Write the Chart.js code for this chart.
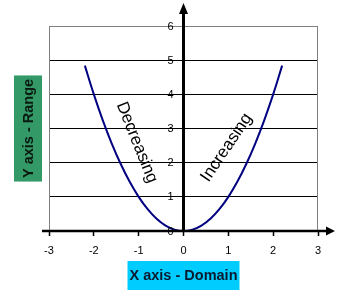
<!DOCTYPE html>
<html>
<head>
<meta charset="utf-8">
<script src="https://cdn.jsdelivr.net/npm/chart.js@4"></script>
<style>
html,body{margin:0;padding:0;background:#fff;}
#wrap{width:339px;height:296px;}
</style>
</head>
<body>
<div id="wrap"><canvas id="c" width="339" height="296"></canvas></div>
<script>
// Data (y = x^2 parabola)
const xValues = [-2.2, -2.0, -1.8, -1.6, -1.4, -1.2, -1.0, -0.8, -0.6, -0.4, -0.2, 0, 0.2, 0.4, 0.6, 0.8, 1.0, 1.2, 1.4, 1.6, 1.8, 2.0, 2.2];
const yValues = [4.84, 4.0, 3.24, 2.56, 1.96, 1.44, 1.0, 0.64, 0.36, 0.16, 0.04, 0, 0.04, 0.16, 0.36, 0.64, 1.0, 1.44, 1.96, 2.56, 3.24, 4.0, 4.84];
const xRange = [-3, 3];
const yRange = [0, 6];
const xTitle = 'X axis - Domain';
const yTitle = 'Y axis - Range';
const noteTexts = ['Decreasing', 'Increasing'];
const noteX = [-1.04, 0.96];
const noteY = [2.59, 2.44];

const points = xValues.map((x, i) => ({x: x, y: yValues[i]}));
const FONT = '"Liberation Sans", Arial, sans-serif';

const decor = {
  id: 'decor',
  beforeDatasetsDraw(chart) {
    const ctx = chart.ctx, a = chart.chartArea;
    ctx.save();
    ctx.strokeStyle = '#808080';
    ctx.lineWidth = 1;
    ctx.strokeRect(a.left + 0.5, a.top + 0.5, a.right - a.left - 1, a.bottom - a.top);
    ctx.restore();
  },
  afterDatasetsDraw(chart) {
    const ctx = chart.ctx, a = chart.chartArea;
    const xs = chart.scales.x, ys = chart.scales.y;
    const x0 = xs.getPixelForValue(0), y0 = ys.getPixelForValue(0);
    ctx.save();
    ctx.fillStyle = '#000';
    ctx.strokeStyle = '#000';
    // x axis line + arrow
    ctx.lineWidth = 2.5;
    ctx.beginPath();
    ctx.moveTo(a.left - 7, y0);
    ctx.lineTo(a.right + 10, y0);
    ctx.stroke();
    ctx.beginPath();
    ctx.moveTo(a.right + 17, y0);
    ctx.lineTo(a.right + 8, y0 - 4.5);
    ctx.lineTo(a.right + 8, y0 + 4.5);
    ctx.closePath();
    ctx.fill();
    // y axis line + arrow
    ctx.lineWidth = 3;
    ctx.beginPath();
    ctx.moveTo(x0, y0 + 1);
    ctx.lineTo(x0, a.top - 14);
    ctx.stroke();
    ctx.beginPath();
    ctx.moveTo(x0, a.top - 23);
    ctx.lineTo(x0 - 4.5, a.top - 12);
    ctx.lineTo(x0 + 4.5, a.top - 12);
    ctx.closePath();
    ctx.fill();
    // y tick labels, placed from the y scale's own ticks, left of the y axis
    ctx.font = '11px ' + FONT;
    ctx.textAlign = 'right';
    ctx.textBaseline = 'middle';
    ys.ticks.forEach((t) => {
      ctx.fillText(String(t.value), x0 - 10, ys.getPixelForValue(t.value) + 0.5);
    });
    // notes
    ctx.font = '17px ' + FONT;
    ctx.textAlign = 'center';
    const angles = [68, -56];
    noteTexts.forEach((t, i) => {
      ctx.save();
      ctx.translate(xs.getPixelForValue(noteX[i]), ys.getPixelForValue(noteY[i]));
      ctx.rotate(angles[i] * Math.PI / 180);
      ctx.fillText(t, 0, 0);
      ctx.restore();
    });
    // axis titles with coloured boxes
    ctx.font = 'bold 14.5px ' + FONT;
    const cx = (a.left + a.right) / 2;
    let w = ctx.measureText(xTitle).width + 4;
    ctx.fillStyle = '#00CCFF';
    ctx.fillRect(cx - w / 2, 261, w, 29);
    ctx.fillStyle = '#0a1a2e';
    ctx.fillText(xTitle, cx, 276);
    const cy = (a.top + a.bottom) / 2;
    w = ctx.measureText(yTitle).width + 7;
    ctx.save();
    ctx.translate(28, cy);
    ctx.rotate(-Math.PI / 2);
    ctx.fillStyle = '#339966';
    ctx.fillRect(-w / 2, -14, w, 28);
    ctx.fillStyle = '#0a1a10';
    ctx.fillText(yTitle, 0, 1);
    ctx.restore();
    ctx.restore();
  }
};

new Chart(document.getElementById('c'), {
  type: 'scatter',
  data: {
    datasets: [{
      data: points,
      showLine: true,
      borderColor: '#000080',
      borderWidth: 2,
      pointRadius: 0,
      tension: 0.4,
      fill: false
    }]
  },
  options: {
    responsive: false,
    animation: false,
    events: [],
    layout: {padding: {left: 49, right: 21, top: 26, bottom: 35}},
    plugins: {legend: {display: false}, tooltip: {enabled: false}, title: {display: false}},
    scales: {
      x: {
        type: 'linear',
        position: 'bottom',
        min: xRange[0], max: xRange[1],
        afterFit(s) { s.height = 30; },
        ticks: {stepSize: 1, color: '#000', padding: 8, font: {family: FONT, size: 11}},
        grid: {color: 'rgba(0,0,0,0)', drawOnChartArea: false, drawTicks: true, tickLength: 5, tickColor: '#000', tickWidth: 1.5},
        border: {display: false}
      },
      y: {
        type: 'linear',
        position: {x: 0},
        min: yRange[0], max: yRange[1],
        ticks: {stepSize: 1, display: false},
        grid: {
          color: (c) => (c.tick && c.tick.value === 0) ? 'rgba(0,0,0,0)' : (c.tick && c.tick.value === 6 ? '#808080' : '#000'),
          lineWidth: 1,
          drawTicks: true,
          tickLength: 5,
          tickColor: '#000'
        },
        border: {display: false}
      }
    }
  },
  plugins: [decor]
});
</script>
</body>
</html>
